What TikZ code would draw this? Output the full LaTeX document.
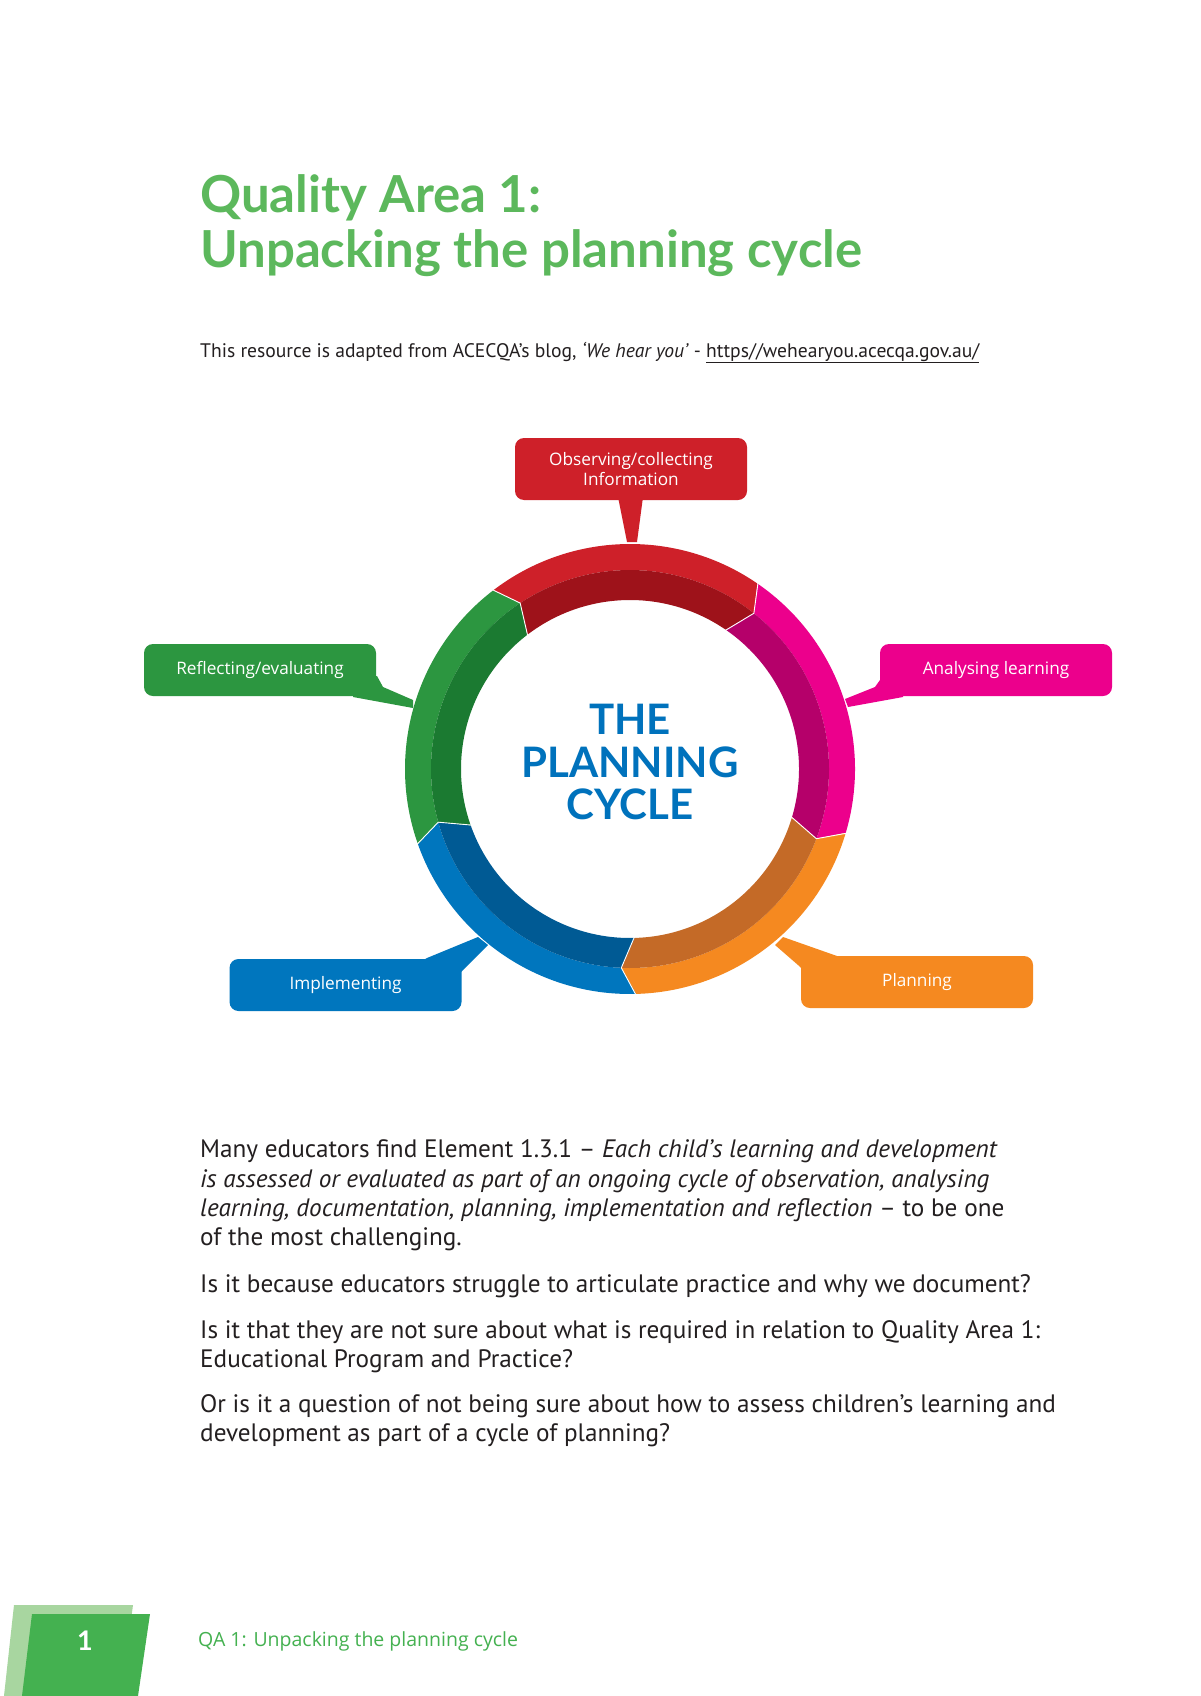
\documentclass[tikz,border=0pt]{standalone}
\usepackage{fontspec}
\setmainfont{PT Sans}
\newfontfamily\titlefont{Lato}
\newfontfamily\calloutfont{Open Sans}
\usetikzlibrary{calc}
\definecolor{titlegreen}{RGB}{92,184,92}
\definecolor{footdark}{RGB}{68,177,80}
\definecolor{footlight}{RGB}{168,214,160}
\definecolor{redL}{RGB}{206,32,41}
\definecolor{redD}{RGB}{158,18,26}
\definecolor{pinkL}{RGB}{236,0,140}
\definecolor{pinkD}{RGB}{181,0,106}
\definecolor{orangeL}{RGB}{245,137,32}
\definecolor{orangeD}{RGB}{196,106,39}
\definecolor{blueL}{RGB}{0,118,190}
\definecolor{blueD}{RGB}{0,90,148}
\definecolor{greenL}{RGB}{44,150,64}
\definecolor{greenD}{RGB}{27,122,49}
\definecolor{cycblue}{RGB}{0,114,188}
\definecolor{bodytext}{RGB}{35,31,32}
\newcommand{\ringseg}[4]{%
 \fill[#3] (#1:225pt) arc[start angle=#1, end angle=#2, radius=225pt] -- ({#2-4}:199pt) arc[start angle={#2-4}, end angle={#1-4}, radius=199pt] -- cycle;
 \fill[#4] ({#1-4}:199pt) arc[start angle={#1-4}, end angle={#2-4}, radius=199pt] -- (#2:169pt) arc[start angle=#2, end angle=#1, radius=169pt] -- cycle;
}
\newcommand{\ringsep}[1]{%
 \draw[white, line width=0.9pt, line join=miter] (#1:226pt) -- ({#1-4}:199pt) -- (#1:168pt);
}
\begin{document}
\begin{tikzpicture}[x=1pt,y=1pt,
 body/.style={anchor=base west, inner sep=0, text=bodytext, font=\fontsize{25.2}{29}\selectfont},
 ttl/.style={anchor=base west, inner sep=0, text=titlegreen, font=\titlefont\bfseries\fontsize{51}{60}\selectfont},
 callout/.style={rounded corners=9pt, minimum width=232pt, inner sep=0, text=white, align=center, font=\calloutfont\fontsize{17.2}{20.5}\selectfont}
]
\useasboundingbox (0,0) rectangle (1200,-1696);
\fill[white] (0,0) rectangle (1200,-1696);

% title
\node[ttl] (t1) at (200,-213) {Quality Area 1:};
\node[ttl] (t2) at (200,-268) {Unpacking the planning cycle};
\node[anchor=base west, inner sep=0, text=bodytext, font=\fontsize{19.6}{22}\selectfont] (sub) at (200,-357)
 {This resource is adapted from ACECQA’s blog, \textit{‘We hear you’} - \underline{https//wehearyou.acecqa.gov.au/}};

% pointers of the callouts
\fill[redL] (618,-497) -- (643,-497) -- (637,-542) -- (627,-542) -- cycle;
\fill[greenL] (370,-676) -- (377,-676) -- (383,-687) -- (413,-700) -- (413,-708) -- (353,-697) -- (353,-690) -- cycle;
\fill[pinkL] (890,-676) -- (880,-680) -- (875,-687) -- (845,-699) -- (848,-707) -- (903,-697) -- (903,-690) -- cycle;
\fill[blueL] (420,-962) -- (427,-958) -- (478,-937) -- (488,-945) -- (463,-970) -- (458,-975) -- cycle;
\fill[orangeL] (845,-960) -- (837,-956) -- (783,-937) -- (775,-945) -- (798,-965) -- (805,-972) -- cycle;

% ring
\begin{scope}[shift={(630,-769)}]
 \ringseg{127.5}{55.5}{redL}{redD}
 \ringseg{55.5}{-16.5}{pinkL}{pinkD}
 \ringseg{-16.5}{-88.5}{orangeL}{orangeD}
 \ringseg{-88.5}{-160.5}{blueL}{blueD}
 \ringseg{199.5}{127.5}{greenL}{greenD}
 \ringsep{127.5}
 \ringsep{55.5}
 \ringsep{-16.5}
 \ringsep{-88.5}
 \ringsep{-160.5}
\end{scope}
\node[align=center, text=cycblue, font=\titlefont\bfseries\fontsize{42}{42.5}\selectfont] (cyc) at (630,-762) {THE\\PLANNING\\CYCLE};

% callouts
\node[callout, fill=redL, minimum height=62pt] (obs) at (631,-469) {Observing/collecting\\Information};
\node[callout, fill=greenL, minimum height=52pt] (ref) at (260,-670) {Reflecting/evaluating};
\node[callout, fill=pinkL, minimum height=52pt] (ana) at (996,-670) {Analysing learning};
\node[callout, fill=blueL, minimum height=52pt] (imp) at (345.5,-985) {Implementing};
\node[callout, fill=orangeL, minimum height=52pt] (pla) at (917,-982) {Planning};

% body text
\node[body] (b1) at (200,-1157) {Many educators find Element 1.3.1 – \textit{Each child’s learning and development}};
\node[body] (b2) at (200,-1187) {\textit{is assessed or evaluated as part of an ongoing cycle of observation, analysing}};
\node[body] (b3) at (200,-1216) {\textit{learning, documentation, planning, implementation and reflection} – to be one};
\node[body] (b4) at (200,-1245) {of the most challenging.};
\node[body] (b5) at (200,-1292) {Is it because educators struggle to articulate practice and why we document?};
\node[body] (b6) at (200,-1338) {Is it that they are not sure about what is required in relation to Quality Area 1:};
\node[body] (b7) at (200,-1367) {Educational Program and Practice?};
\node[body] (b8) at (200,-1412) {Or is it a question of not being sure about how to assess children’s learning and};
\node[body] (b9) at (200,-1441) {development as part of a cycle of planning?};

% footer
\fill[footlight] (14,-1605) -- (133,-1605) -- (121,-1696) -- (4,-1696) -- cycle;
\fill[footdark] (32,-1614) -- (150,-1614) -- (138,-1696) -- (22,-1696) -- cycle;
\node[text=white, font=\titlefont\bfseries\fontsize{27}{30}\selectfont] (pg) at (85,-1641) {1};
\node[anchor=base west, inner sep=0, text=footdark, font=\calloutfont\fontsize{19.5}{22}\selectfont] (foot) at (198,-1646) {QA 1: Unpacking the planning cycle};
\end{tikzpicture}
\end{document}
